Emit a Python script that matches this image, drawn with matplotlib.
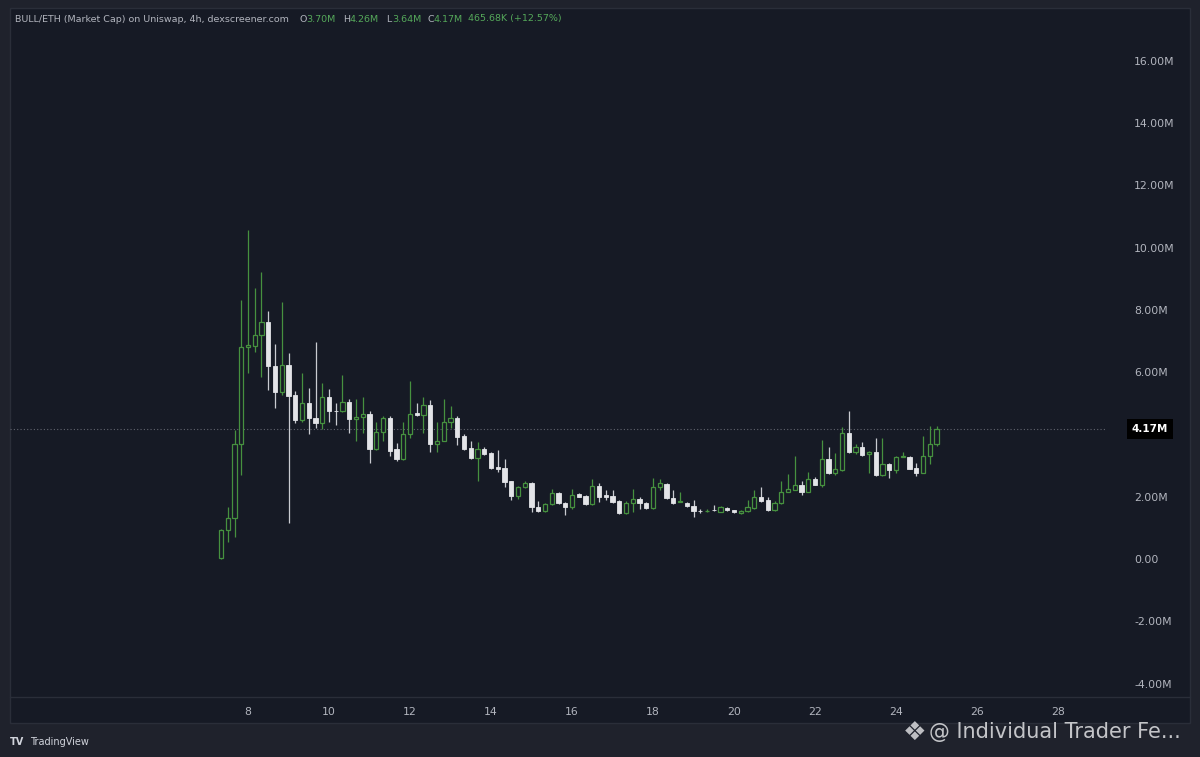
import numpy as np
import matplotlib.pyplot as plt
from matplotlib.patches import Rectangle
from matplotlib.lines import Line2D

# BULL/ETH market cap, 4h candles, values in millions
opens = [0.03, 0.93, 1.32, 3.70, 6.82, 6.85, 7.20, 7.60, 6.20, 5.37,
         6.24, 5.27, 4.47, 5.00, 4.53, 4.37, 5.20, 4.76, 4.76, 5.05,
         4.50, 4.56, 4.66, 3.54, 4.08, 4.53, 3.54, 3.20, 4.00, 4.70,
         4.63, 4.95, 3.70, 3.80, 4.40, 4.53, 3.95, 3.57, 3.25, 3.54,
         3.40, 2.95, 2.93, 2.50, 2.03, 2.30, 2.44, 1.67, 1.54, 1.77,
         2.12, 1.80, 1.67, 2.09, 2.03, 1.77, 2.35, 2.06, 2.03, 1.86,
         1.48, 1.80, 1.93, 1.80, 1.64, 2.32, 2.41, 1.96, 1.84, 1.80,
         1.70, 1.55, 1.54, 1.57, 1.52, 1.64, 1.57, 1.48, 1.54, 1.64,
         2.00, 1.90, 1.57, 1.80, 2.16, 2.22, 2.38, 2.16, 2.57, 2.38,
         3.22, 2.77, 2.86, 4.05, 3.44, 3.60, 3.38, 3.44, 2.70, 3.05,
         2.86, 3.28, 3.28, 2.93, 2.77, 3.31, 3.70]
highs = [0.95, 1.67, 4.15, 8.33, 10.55, 8.70, 9.22, 7.95, 6.90, 8.26,
         6.62, 5.40, 5.98, 5.50, 6.98, 5.66, 5.45, 5.00, 5.90, 5.14,
         5.14, 5.20, 4.75, 4.40, 4.60, 4.60, 3.73, 4.40, 5.70, 5.00,
         5.20, 5.10, 4.40, 5.14, 4.90, 4.60, 4.00, 3.80, 3.76, 3.58,
         3.42, 3.50, 3.20, 2.52, 2.35, 2.50, 2.48, 1.85, 1.80, 2.25,
         2.15, 1.83, 2.25, 2.12, 2.05, 2.57, 2.45, 2.20, 2.20, 1.88,
         1.85, 2.25, 2.00, 1.83, 2.60, 2.57, 2.45, 2.20, 2.15, 1.83,
         1.90, 1.62, 1.62, 1.74, 1.70, 1.66, 1.58, 1.56, 1.90, 2.20,
         2.30, 1.98, 1.86, 2.50, 2.73, 3.30, 2.50, 2.80, 2.62, 3.83,
         3.60, 3.40, 4.23, 4.76, 3.70, 3.74, 3.46, 3.90, 3.90, 3.07,
         3.32, 3.42, 3.30, 3.08, 3.95, 4.28, 4.26]
lows = [0.00, 0.55, 0.70, 2.70, 5.98, 6.65, 5.85, 5.43, 4.86, 5.27,
        1.16, 4.35, 4.40, 4.00, 4.20, 4.18, 4.40, 4.30, 4.72, 4.05,
        3.80, 4.05, 3.09, 3.50, 3.80, 3.30, 3.15, 3.17, 3.90, 4.60,
        4.05, 3.44, 3.44, 3.78, 4.20, 3.66, 3.50, 3.22, 2.50, 3.35,
        2.88, 2.80, 2.30, 1.89, 1.92, 2.28, 1.50, 1.50, 1.50, 1.74,
        1.76, 1.40, 1.62, 1.98, 1.74, 1.74, 1.83, 1.90, 1.80, 1.45,
        1.46, 1.50, 1.62, 1.60, 1.62, 2.22, 1.93, 1.75, 1.82, 1.66,
        1.35, 1.48, 1.50, 1.53, 1.50, 1.55, 1.48, 1.46, 1.50, 1.60,
        1.84, 1.55, 1.54, 1.78, 2.14, 2.20, 2.05, 2.14, 2.36, 2.30,
        2.72, 2.70, 2.84, 3.40, 3.36, 3.32, 2.75, 2.68, 2.68, 2.60,
        2.75, 3.26, 2.88, 2.65, 2.75, 3.05, 3.64]
closes = [0.93, 1.32, 3.70, 6.82, 6.88, 7.20, 7.60, 6.20, 5.37, 6.24,
          5.24, 4.47, 5.00, 4.53, 4.37, 5.20, 4.76, 4.74, 5.05, 4.50,
          4.56, 4.66, 3.54, 4.08, 4.53, 3.47, 3.20, 4.00, 4.66, 4.63,
          4.95, 3.70, 3.80, 4.40, 4.53, 3.92, 3.54, 3.25, 3.54, 3.38,
          2.93, 2.90, 2.48, 2.03, 2.30, 2.44, 1.67, 1.54, 1.77, 2.12,
          1.80, 1.67, 2.06, 2.00, 1.77, 2.35, 2.00, 2.00, 1.83, 1.48,
          1.80, 1.93, 1.80, 1.64, 2.32, 2.44, 1.96, 1.80, 1.86, 1.70,
          1.54, 1.54, 1.55, 1.56, 1.67, 1.57, 1.50, 1.54, 1.67, 2.00,
          1.86, 1.57, 1.80, 2.16, 2.25, 2.38, 2.16, 2.57, 2.38, 3.22,
          2.77, 2.90, 4.05, 3.44, 3.60, 3.34, 3.44, 2.70, 3.05, 2.86,
          3.28, 3.30, 2.90, 2.77, 3.31, 3.70, 4.17]

first_day = 7 + 8 / 24   # first candle open (day of month)
bar_hours = 4
last_price = 4.17

x_ticks = [8, 10, 12, 14, 16, 18, 20, 22, 24, 26, 28]
# 4.00M is hidden behind the last price label
y_ticks = [-4, -2, 0, 2, 6, 8, 10, 12, 14, 16]

# colours
fig_bg = '#1f222c'
pane_bg = '#161a25'
border = '#2a2e39'
green = '#46913f'
white = '#e3e4e8'
txt = '#b2b5be'

plt.rcParams['font.family'] = ['DejaVu Sans']

o = np.array(opens)
h = np.array(highs)
l = np.array(lows)
c = np.array(closes)
t = first_day + np.arange(len(o)) * bar_hours / 24
up = c >= o
dn = ~up

fig = plt.figure(figsize=(12, 7.57), dpi=100, facecolor=fig_bg)

# chart pane background + x axis strip separator
fig.patches.append(Rectangle((10 / 1200, 34 / 757), 1180 / 1200, 715 / 757,
                             transform=fig.transFigure, facecolor=pane_bg,
                             edgecolor=border, linewidth=1, zorder=-2))
fig.lines.append(Line2D([10 / 1200, 1190 / 1200], [60 / 757, 60 / 757],
                        transform=fig.transFigure, color=border, linewidth=1, zorder=-1))

ax = fig.add_axes([10 / 1200, 60 / 757, 1095 / 1200, 689 / 757])
ax.patch.set_alpha(0)
for s in ax.spines.values():
    s.set_visible(False)

w = 0.1
# up candles: hollow green
ax.vlines(t[up], l[up], o[up], color=green, linewidth=0.9, zorder=2)
ax.vlines(t[up], c[up], h[up], color=green, linewidth=0.9, zorder=2)
ax.bar(t[up], c[up] - o[up], bottom=o[up], width=w, facecolor=pane_bg,
       edgecolor=green, linewidth=0.9, zorder=3)
# down candles: filled white
ax.vlines(t[dn], l[dn], h[dn], color='#c9cbd1', linewidth=0.9, zorder=2)
ax.bar(t[dn], o[dn] - c[dn], bottom=c[dn], width=w, color=white,
       edgecolor=white, linewidth=0.6, zorder=3)

# last price line + label
ax.axhline(last_price, color='#62656f', linestyle=(0, (1, 2)), linewidth=0.8, zorder=1)
ax.text(1.041, last_price, f'{last_price:.2f}M', transform=ax.get_yaxis_transform(),
        ha='center', va='center', color='white', fontsize=7.5, fontweight='bold',
        clip_on=False, bbox=dict(facecolor='black', edgecolor='none', pad=3.4))

ax.set_xlim(8 + (10 - 248) / 40.5, 8 + (1105 - 248) / 40.5)
ax.set_ylim((559 - 697) / 31.15, (559 - 8) / 31.15)

ax.set_xticks(x_ticks)
ax.set_xticklabels([str(d) for d in x_ticks])
ax.yaxis.tick_right()
ax.set_yticks(y_ticks)
ax.set_yticklabels(['0.00' if v == 0 else f'{v:.2f}M' for v in y_ticks])
ax.tick_params(axis='x', length=0, pad=7, colors=txt, labelsize=7.8)
ax.tick_params(axis='y', length=0, pad=21, colors=txt, labelsize=7.8)

# header legend
hy = 1 - 19 / 757
hs = 6.8
fig.text(15 / 1200, hy, 'BULL/ETH (Market Cap) on Uniswap, 4h, dexscreener.com',
         color=txt, fontsize=hs, va='center')
pieces = [(300, 'O', '3.70M'), (343, 'H', '4.26M'), (386, 'L', '3.64M'), (427, 'C', '4.17M')]
for px, k, v in pieces:
    fig.text(px / 1200, hy, k, color=txt, fontsize=hs, va='center')
    fig.text((px + 6.5) / 1200, hy, v, color='#55a85a', fontsize=hs, va='center')
fig.text(468 / 1200, hy, '465.68K (+12.57%)', color='#55a85a', fontsize=hs, va='center')

# footer
fig.text(10 / 1200, 1 - 742 / 757, 'TV', color='#d1d4dc', fontsize=7,
         fontweight='bold', va='center')
fig.text(30 / 1200, 1 - 742 / 757, 'TradingView', color='#d1d4dc', fontsize=7, va='center')

# watermark
fig.text(903 / 1200, 1 - 733 / 757, '\u2756', color='#cfd0d4', fontsize=19,
         va='center', alpha=0.9)
fig.text(929 / 1200, 1 - 732 / 757, '@ Individual Trader Fe...', color='#d6d7da',
         fontsize=15, va='center', alpha=0.9)

fig.savefig('out.png', dpi=100, facecolor=fig_bg)
